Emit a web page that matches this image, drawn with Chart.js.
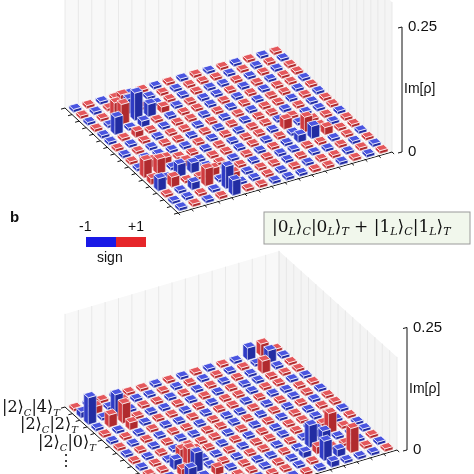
<!DOCTYPE html>
<html>
<head>
<meta charset="utf-8">
<script src="https://cdn.jsdelivr.net/npm/chart.js@4.4.0/dist/chart.umd.min.js"></script>
<style>
  html, body { margin: 0; padding: 0; background: #fff; }
  #wrap { position: relative; width: 474px; height: 474px; }
</style>
</head>
<body>
<div id="wrap"><canvas id="c" width="474" height="474"></canvas></div>
<script>
// Im[rho] values, units of 0.001, 16 x 16 (row = ket index, col = bra index)
const topRows = [
  [ 6,-6, 6, 6,-6, 6,-6, 6, 6,-6, 6, 6,-6, 6,-6, 6],
  [-6, 6,-6, 6, 6,-6, 6,-6,-6, 6,-6, 6, 6,-6, 6,-6],
  [ 6,-6, 6,-6, 6, 6,-6, 6,-6, 6, 6,15,-6, 6,-6, 6],
  [-6, 6,-6, 6,-6, 6, 6,-6, 6,-6,30,-25, 6,-6, 6,-6],
  [ 6,-6, 6,-6, 6,-6, 6, 6,-6,20,-6,-15, 6,-6, 6, 6],
  [-6, 6,-6, 6,-6, 6,-6, 6, 6,-6, 6,-6,-6, 6,-6, 6],
  [ 6, 6,-6,-6, 6,-6, 6,-6, 6, 6,-6, 6,-6,-6, 6,-6],
  [-6, 6, 6,-6,-6, 6,-6, 6,-6, 6, 6,-6, 6, 6,-6,-6],
  [ 6,-6,-6, 6, 6,-6, 6,-6, 6,-6,-6, 6,-6, 6, 6,-6],
  [-6, 6, 6,-6, 6, 6,-6, 6,-6, 6, 6,-6, 6,-6,-6, 6],
  [ 6,-6,-6,12,-6, 6, 6,-6, 6,-6, 6, 6,-6,12,-6, 6],
  [-6,15, 6,-25, 6,-6, 6, 6,-6, 6,-6,-6,15,-6,-45,-30],
  [ 6,25,-30,-55,-12, 6,-6, 6,-6, 6,12,-20, 6,35,-6, 6],
  [-6, 6,30,40,-6,12, 6,-6,-6,12,-6,-25, 6,-15, 6,-6],
  [ 6,-6, 6,-6,-35, 6,-6, 6,-6,15,30,-6,20,-6,-6, 6],
  [-6, 6,-6, 6,-6,-6, 6,-6, 6,-6,35,12,-25, 6,-6,-6]
];
const bottomRows = [
  [ 6,-6, 6, 6,-6, 6,-6, 6, 6,-6, 6,-6,-6, 6,-6, 6],
  [25,-25,-6, 6,-6, 6, 6,-6, 6, 6,-6, 6,-6,-6, 6,-6],
  [-25,-6,25, 6, 6,-6,-6, 6,-6,-6, 6,40,-6, 6,50,-6],
  [-6, 6,-6,-6, 6,-6, 6,-6, 6, 6,-6,-15,-25, 6,-15,-6],
  [ 6,-6, 6,-6,-6, 6,-6, 6,-6, 6, 6,-6,-45,15,-40,-12],
  [-6, 6,-6, 6, 6,-6, 6,-6, 6,-6,-6, 6,-6,-12, 6,-6],
  [ 6,-6, 6,-6, 6, 6,-6, 6,-6, 6, 6,-6, 6,-6,-6, 6],
  [-6, 6,-6, 6,-6, 6,-6,-6, 6,-6, 6, 6,-6, 6, 6,-6],
  [ 6,-6, 6,-6, 6,-6, 6, 6,-6, 6,-6, 6,-6,-6, 6, 6],
  [-6, 6,-6, 6,-6, 6,-6, 6, 6,-6, 6,-6, 6, 6,-6,-6],
  [ 6,-6, 6,-6, 6,-6, 6,-6, 6, 6,-6, 6,-6, 6,-6, 6],
  [ 6,-6, 6,-6, 6,-6, 6,-6, 6,12,-6,-6,15,-6, 6,-6],
  [-6,12,-6, 6,-6, 6,-6, 6,-6,20,35,-40,-6, 6,-6, 6],
  [ 6,-6,-45,40,15,-6, 6,-6, 6,-6,-20,15,-30,-6, 6,-6],
  [-6,15,-6,25,-6, 6,-6, 6,-6, 6, 6,-6, 6,-6,-6, 6],
  [ 6,-12,-55,-6, 6,-6, 6,-6, 6,-6, 6, 6,-6, 6, 6,-6]
];
const zTicks = ['0', '0.25'];
const ketLabels = ['|2⟩', '|4⟩', '|2⟩', '|2⟩', '|2⟩', '|0⟩'];

const N = 16;
// panel geometry: back corner, step along rows, step along cols, px per unit height
const panels = [
  { rows: topRows, back: [279, 47], u: [(65 - 279) / N, (108 - 47) / N], v: [(392 - 279) / N, (152 - 47) / N], zpx: 500, wallH: 0.3 },
  { rows: bottomRows, back: [279, 344], u: [(65 - 279) / N, (407 - 344) / N], v: [(397 - 279) / N, (450 - 344) / N], zpx: 490, wallH: 0.19 }
];

function proj(p, i, j, z) {
  return { x: p.back[0] + i * p.u[0] + j * p.v[0], y: p.back[1] + i * p.u[1] + j * p.v[1] - z * p.zpx };
}

// one dataset per panel: floor position of every bar, heights carried along
const datasets = panels.map((p, k) => {
  const pts = [];
  for (let i = 0; i < N; i++) for (let j = 0; j < N; j++) {
    const c = proj(p, i + 0.5, j + 0.5, 0);
    pts.push({ x: c.x, y: c.y, i: i, j: j, z: p.rows[i][j] / 1000 });
  }
  return { label: 'panel' + k, data: pts, pointRadius: 0, panel: k };
});

function poly(ctx, xs, lw, fill, stroke) {
  ctx.beginPath();
  ctx.moveTo(xs[0].x, xs[0].y);
  for (let n = 1; n < xs.length; n++) ctx.lineTo(xs[n].x, xs[n].y);
  ctx.closePath();
  ctx.fillStyle = fill; ctx.fill();
  if (stroke) { ctx.strokeStyle = stroke; ctx.lineWidth = lw || 0.6; ctx.stroke(); }
}

const bars3d = {
  id: 'bars3d',
  afterDatasetsDraw(chart) {
    const ctx = chart.ctx, sx = chart.scales.x, sy = chart.scales.y;
    const px = (q) => ({ x: sx.getPixelForValue(q.x), y: sy.getPixelForValue(q.y) });
    ctx.save();
    chart.data.datasets.forEach((ds) => {
      const p = panels[ds.panel];
      const P = (i, j, z) => px(proj(p, i, j, z));
      const wallH = p.wallH;
      poly(ctx, [P(0, 0, 0), P(N, 0, 0), P(N, 0, wallH), P(0, 0, wallH)], null, '#f8f8f8');
      poly(ctx, [P(0, 0, 0), P(0, N, 0), P(0, N, wallH), P(0, 0, wallH)], null, '#f4f4f4');
      ctx.strokeStyle = '#e4e4e4'; ctx.lineWidth = 0.8;
      for (let k = 0; k <= N; k++) {
        let a = P(k, 0, 0), b = P(k, 0, wallH);
        ctx.beginPath(); ctx.moveTo(a.x, a.y); ctx.lineTo(b.x, b.y); ctx.stroke();
        a = P(0, k, 0); b = P(0, k, wallH);
        ctx.beginPath(); ctx.moveTo(a.x, a.y); ctx.lineTo(b.x, b.y); ctx.stroke();
      }
      // floor
      poly(ctx, [P(0, 0, 0), P(N, 0, 0), P(N, N, 0), P(0, N, 0)], null, '#ececec');
      // axes lines
      ctx.strokeStyle = '#111'; ctx.lineWidth = 1;
      let a = P(N, 0, 0), c = P(N, N, 0), d = P(0, N, 0);
      ctx.beginPath(); ctx.moveTo(a.x, a.y); ctx.lineTo(c.x, c.y); ctx.lineTo(d.x, d.y); ctx.stroke();
      for (let k = 0; k <= N; k++) {
        const t1 = P(N, k, 0), t2 = P(N + 0.3, k, 0);
        const t3 = P(k, N, 0), t4 = P(k, N + 0.3, 0);
        ctx.beginPath(); ctx.moveTo(t1.x, t1.y); ctx.lineTo(t2.x, t2.y); ctx.moveTo(t3.x, t3.y); ctx.lineTo(t4.x, t4.y); ctx.stroke();
      }
      // z axis at right corner
      const z0 = P(0, N, 0), z1 = P(0, N, 0.25);
      const zx = z0.x + 10;
      ctx.beginPath(); ctx.moveTo(zx, z0.y); ctx.lineTo(zx, z1.y); ctx.stroke();
      ctx.beginPath(); ctx.moveTo(zx - 4, z0.y + 1); ctx.lineTo(zx, z0.y); ctx.moveTo(zx - 4, z1.y + 1); ctx.lineTo(zx, z1.y); ctx.stroke();
      ctx.fillStyle = '#111'; ctx.font = '15px "Liberation Sans", Arial, sans-serif'; ctx.textBaseline = 'middle';
      ctx.fillText(zTicks[0], zx + 6, z0.y);
      ctx.fillText(zTicks[1], zx + 6, z1.y);
      ctx.font = '14px "Liberation Sans", Arial, sans-serif';
      ctx.fillText('Im[ρ]', zx + 2, (z0.y + z1.y) / 2);

      // bars, back to front
      const pts = ds.data.slice().sort((m, n) => (m.i + m.j) - (n.i + n.j));
      const s = 0.3;
      pts.forEach((q) => {
        const ci = q.i + 0.5, cj = q.j + 0.5, h = Math.abs(q.z);
        const red = q.z > 0;
        const top = red ? '#e4575b' : '#4a55e0';
        const sideA = red ? '#d03a3f' : '#2f3bc4';
        const sideB = red ? '#b02a2e' : '#222ca2';
        const edge = red ? '#f3c4c4' : '#c4c8f3';
        poly(ctx, [P(ci - 0.44, cj - 0.44, 0), P(ci + 0.44, cj - 0.44, 0), P(ci + 0.44, cj + 0.44, 0), P(ci - 0.44, cj + 0.44, 0)], null, '#ffffff');
        const A = P(ci - s, cj - s, h), B = P(ci + s, cj - s, h), C = P(ci + s, cj + s, h), D = P(ci - s, cj + s, h);
        const B0 = P(ci + s, cj - s, 0), C0 = P(ci + s, cj + s, 0), D0 = P(ci - s, cj + s, 0);
        poly(ctx, [B0, C0, C, B], 0.6, sideA, edge);
        poly(ctx, [C0, D0, D, C], 0.6, sideB, edge);
        poly(ctx, [A, B, C, D], 0.8, top, '#ffffff');
      });
    });

    // legend: sign bar
    ctx.fillStyle = '#111';
    ctx.font = 'bold 15px "Liberation Sans", Arial, sans-serif'; ctx.textBaseline = 'middle';
    ctx.fillText('b', 10, 218);
    ctx.font = '14px "Liberation Sans", Arial, sans-serif';
    ctx.fillText('-1', 79, 227);
    ctx.fillText('+1', 128, 227);
    ctx.fillStyle = '#1a1ae6'; ctx.fillRect(86, 237, 30, 10);
    ctx.fillStyle = '#e6262a'; ctx.fillRect(116, 237, 30, 10);
    ctx.fillStyle = '#111';
    ctx.fillText('sign', 97, 258);

    // state box
    ctx.fillStyle = '#f1f7ec'; ctx.fillRect(264, 212, 206, 32);
    ctx.strokeStyle = '#9a9a9a'; ctx.lineWidth = 1; ctx.strokeRect(264, 212, 206, 32);
    ctx.fillStyle = '#111';
    let x = 272;
    const seg = (t, f, dy) => { ctx.font = f; ctx.fillText(t, x, 228 + (dy || 0)); x += ctx.measureText(t).width; };
    const big = '17px "DejaVu Serif", serif', it = 'italic 11px "DejaVu Serif", serif';
    seg('|0', big); seg('L', it, 4); seg('⟩', big); seg('C', it, 4);
    seg('|0', big); seg('L', it, 4); seg('⟩', big); seg('T', it, 4);
    seg(' + ', big);
    seg('|1', big); seg('L', it, 4); seg('⟩', big); seg('C', it, 4);
    seg('|1', big); seg('L', it, 4); seg('⟩', big); seg('T', it, 4);

    // row labels bottom panel
    const lab = (t1, t2, lx, ly) => {
      x = lx;
      const fb = '16px "DejaVu Serif", serif', fs = 'italic 10px "DejaVu Serif", serif';
      const s2 = (t, f, dy) => { ctx.font = f; ctx.fillText(t, x, ly + (dy || 0)); x += ctx.measureText(t).width; };
      s2(t1, fb); s2('C', fs, 5); s2(t2, fb); s2('T', fs, 5);
    };
    lab(ketLabels[0], ketLabels[1], 2, 408);
    lab(ketLabels[2], ketLabels[3], 20, 425);
    lab(ketLabels[4], ketLabels[5], 38, 443);
    ctx.font = '16px "DejaVu Serif", serif';
    ctx.fillText('⋮', 58, 462);
    ctx.restore();
  }
};

new Chart(document.getElementById('c'), {
  type: 'scatter',
  data: { datasets: datasets },
  options: {
    responsive: false,
    animation: false,
    layout: { padding: 0 },
    plugins: { legend: { display: false }, tooltip: { enabled: false } },
    scales: {
      x: { type: 'linear', min: 0, max: 474, display: false },
      y: { type: 'linear', min: 0, max: 474, reverse: true, display: false }
    }
  },
  plugins: [bars3d]
});
</script>
</body>
</html>
